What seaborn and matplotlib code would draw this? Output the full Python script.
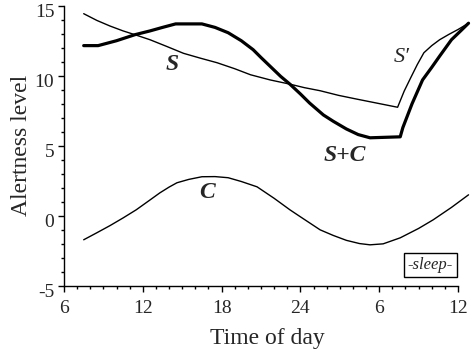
import matplotlib
matplotlib.use("Agg")
import matplotlib.pyplot as plt
from matplotlib.ticker import MultipleLocator
from matplotlib.transforms import ScaledTranslation
import seaborn as sns
import pandas as pd

# ---- data ----
sc_time = [7.5, 8.6, 10.0, 11.4, 12.55, 13.5, 14.5, 16.5, 17.5, 18.5, 19.5, 20.4,
           21.0, 21.7, 22.5, 23.2, 24.0, 24.7, 25.75, 26.5, 27.5, 28.4, 29.3, 31.6,
           31.8, 32.5, 33.3, 34.0, 34.6, 35.5, 36.2, 36.8]
sc_vals = [12.15, 12.15, 12.5, 12.93, 13.2, 13.45, 13.7, 13.7, 13.45, 13.07, 12.5, 11.86,
           11.3, 10.67, 9.95, 9.4, 8.7, 8.05, 7.2, 6.75, 6.2, 5.8, 5.57, 5.64,
           6.3, 8.0, 9.7, 10.6, 11.4, 12.57, 13.2, 13.75]

s_time = [7.5, 8.5, 9.5, 10.5, 11.4, 12.55, 13.8, 15.1, 16.4, 17.65, 19.0, 20.2,
          21.7, 23.2, 24.3, 25.5, 26.9, 28.3, 29.8, 31.4,
          31.9, 32.4, 32.9, 33.4, 34.0, 34.6, 35.3, 36.0, 36.8]
s_vals = [14.43, 13.95, 13.55, 13.2, 12.93, 12.57, 12.1, 11.6, 11.25, 10.93, 10.5, 10.07,
          9.7, 9.4, 9.15, 8.93, 8.6, 8.33, 8.05, 7.75,
          8.9, 9.86, 10.8, 11.64, 12.15, 12.57, 12.95, 13.3, 13.75]

c_time = [7.5, 8.5, 9.5, 10.5, 11.5, 12.5, 13.3, 14.0, 14.6, 15.5, 16.5, 17.5, 18.5,
          19.5, 20.7, 22.0, 23.2, 24.0, 25.5, 26.5, 27.5, 28.5, 29.3, 30.3, 31.6,
          33.0, 34.1, 35.5, 36.8]
c_vals = [-1.71, -1.21, -0.7, -0.15, 0.43, 1.1, 1.64, 2.05, 2.36, 2.6, 2.79, 2.8, 2.72,
          2.45, 2.07, 1.25, 0.43, -0.07, -1.0, -1.4, -1.75, -1.98, -2.07, -2.0, -1.57,
          -0.9, -0.29, 0.6, 1.5]

x_ticks = [6, 12, 18, 24, 30, 36]
x_tick_labels = ["6", "12", "18", "24", "6", "12"]
y_ticks = [-5, 0, 5, 10, 15]

sns.set_style("ticks")
plt.rcParams["font.family"] = ["Liberation Serif", "DejaVu Serif"]
plt.rcParams["axes.unicode_minus"] = False

fig = plt.figure(figsize=(4.74, 3.56), dpi=100)
ax = fig.add_axes([0.135, 0.197, 0.859, 0.787])

df_s = pd.DataFrame({"t": s_time, "v": s_vals})
df_sc = pd.DataFrame({"t": sc_time, "v": sc_vals})
df_c = pd.DataFrame({"t": c_time, "v": c_vals})

sns.lineplot(data=df_s, x="t", y="v", ax=ax, color="black", lw=1.0, sort=False, clip_on=False)
sns.lineplot(data=df_sc, x="t", y="v", ax=ax, color="black", lw=2.3, sort=False, clip_on=False)
sns.lineplot(data=df_c, x="t", y="v", ax=ax, color="black", lw=1.0, sort=False, clip_on=False)

ax.set_xlim(6, 37)
ax.set_ylim(-5, 15)
ax.spines["bottom"].set_bounds(6, 36)
ax.spines["top"].set_visible(False)
ax.spines["right"].set_visible(False)
for sp in ("left", "bottom"):
    ax.spines[sp].set_linewidth(1.0)
    ax.spines[sp].set_color("black")

ax.set_xticks(x_ticks)
ax.set_xticklabels(x_tick_labels)
ax.set_yticks(y_ticks)
ax.set_yticklabels([str(v) for v in y_ticks])
ax.set_xticks(list(range(6, 37)), minor=True)
ax.yaxis.set_minor_locator(MultipleLocator(1))
ax.tick_params(which="major", direction="out", length=4, width=1.0, color="black",
               labelsize=14, pad=3)
ax.tick_params(axis="x", which="major", pad=6)
ax.tick_params(which="minor", direction="out", length=2.3, width=1.0, color="black")

ax.set_xlabel("Time of day", fontsize=17, labelpad=8)
ax.set_ylabel("Alertness level", fontsize=17, labelpad=2)

lab = dict(fontsize=17, fontstyle="italic", fontweight="bold", ha="center", va="center")
ax.text(14.2, 10.8, "S", **lab)
ax.text(27.4, 4.3, "S+C", **lab)
ax.text(16.9, 1.64, "C", **lab)
ax.text(31.7, 11.3, "S\u2032", fontsize=16, fontstyle="italic", ha="center", va="center")

ax.text(33.9, -3.5, "-sleep-", fontsize=12, fontstyle="italic", ha="center", va="center",
        bbox=dict(boxstyle="square,pad=0.22", fc="white", ec="black", lw=1.0))

offset = ScaledTranslation(0, -0.05, fig.dpi_scale_trans)
for tk in ax.yaxis.get_major_ticks():
    tk.label1.set_transform(tk.label1.get_transform() + offset)

fig.savefig("out.png", dpi=100)
